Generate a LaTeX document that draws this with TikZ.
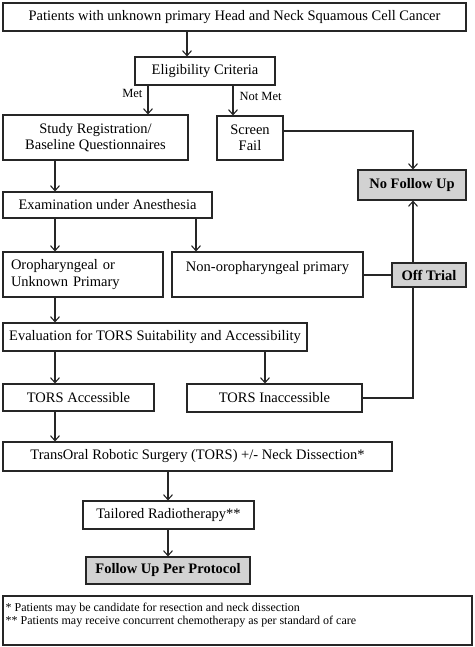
\documentclass[tikz,border=0pt]{standalone}
\usepackage{fontspec}
\setmainfont{Liberation Serif}
\usetikzlibrary{arrows.meta}
\begin{document}
\begin{tikzpicture}[x=1pt,y=-1pt,
  box/.style={draw=black!85, line width=1.1pt, inner sep=0pt, align=center, font=\fontsize{14.5}{16.5}\selectfont},
  greybox/.style={box, fill=gray!35, font=\fontsize{14.5}{16.5}\selectfont\bfseries},
  arr/.style={draw=black!85, line width=1.1pt, -{Straight Barb[length=5pt,width=9pt,line width=1.1pt]}},
  conn/.style={draw=black!85, line width=1.1pt},
  lbl/.style={font=\fontsize{12.5}{14}\selectfont, inner sep=1pt}]
\useasboundingbox (0,0) rectangle (474,647);
% boxes
\node[box, minimum width=463pt, minimum height=28pt] (top) at (234.5,17) {Patients with unknown primary Head and Neck Squamous Cell Cancer};
\node[box, minimum width=140pt, minimum height=28pt] (elig) at (205,71) {Eligibility Criteria};
\node[box, minimum width=185pt, minimum height=45pt] (study) at (95.5,137.5) {Study Registration/\\Baseline Questionnaires};
\node[box, minimum width=66pt, minimum height=44pt] (screen) at (250,138) {Screen\\Fail};
\node[greybox, minimum width=108pt, minimum height=30pt] (nofu) at (412,185) {No Follow Up};
\node[box, minimum width=209pt, minimum height=26pt] (exam) at (107.5,205) {Examination under Anesthesia};
\node[box, minimum width=160pt, minimum height=45pt, text width=144pt, align=left] (oro) at (83,274.5) {Oropharyngeal or\\Unknown Primary};
\node[box, minimum width=191pt, minimum height=45pt] (nonoro) at (267.5,274.5) {Non-oropharyngeal primary\\~};
\node[greybox, minimum width=74pt, minimum height=24pt] (off) at (429,275) {Off Trial};
\node[box, minimum width=304pt, minimum height=28pt] (eval) at (155,337) {Evaluation for TORS Suitability and Accessibility};
\node[box, minimum width=151pt, minimum height=27pt] (ta) at (78.5,397.5) {TORS Accessible};
\node[box, minimum width=175pt, minimum height=28pt] (ti) at (274.5,398) {TORS Inaccessible};
\node[box, minimum width=389pt, minimum height=29pt] (tors) at (197.5,456.5) {TransOral Robotic Surgery (TORS) +/- Neck Dissection*};
\node[box, minimum width=171pt, minimum height=28pt] (tail) at (168.5,515) {Tailored Radiotherapy**};
\node[greybox, minimum width=164pt, minimum height=27pt] (fu) at (168,570.5) {Follow Up Per Protocol};
\node[box, minimum width=469pt, minimum height=49pt] (foot) at (237.5,620.5) {};
\node[anchor=north west, align=left, inner sep=0pt, font=\fontsize{12}{13.5}\selectfont] (fntext) at ([xshift=3pt,yshift=-7pt]foot.north west) {* Patients may be candidate for resection and neck dissection\\** Patients may receive concurrent chemotherapy as per standard of care};
% helper coordinates
\coordinate (xa) at (187,0);
\coordinate (xmet) at (148,0);
\coordinate (xnm) at (233,0);
\coordinate (xl) at (55,0);
\coordinate (xnon) at (196,0);
\coordinate (xti) at (265,0);
\coordinate (xr) at (413,0);
\coordinate (xmid) at (168,0);
\coordinate (ysf) at (0,131);
% connectors
\draw[arr] (top.south -| xa) -- (elig.north -| xa);
\draw[arr] (elig.south -| xmet) -- node[lbl, pos=0.28, left=4pt] (met) {Met} (study.north -| xmet);
\draw[arr] (elig.south -| xnm) -- node[lbl, pos=0.37, right=5pt] (notmet) {Not Met} (screen.north -| xnm);
\draw[arr] (screen.east |- ysf) -| (nofu.north -| xr);
\draw[arr] (study.south -| xl) -- (exam.north -| xl);
\draw[arr] (exam.south -| xl) -- (oro.north -| xl);
\draw[arr] (exam.south -| xnon) -- (nonoro.north -| xnon);
\draw[arr] (oro.south -| xl) -- (eval.north -| xl);
\draw[arr] (eval.south -| xl) -- (ta.north -| xl);
\draw[arr] (eval.south -| xti) -- (ti.north -| xti);
\draw[arr] (ta.south -| xl) -- (tors.north -| xl);
\draw[arr] (tors.south -| xmid) -- (tail.north -| xmid);
\draw[arr] (tail.south -| xmid) -- (fu.north -| xmid);
\draw[conn] (nonoro.east |- off.west) -- (off.west);
\draw[arr] (off.north -| xr) -- (nofu.south -| xr);
\draw[conn] (ti.east) -| (off.south -| xr);
\end{tikzpicture}
\end{document}
